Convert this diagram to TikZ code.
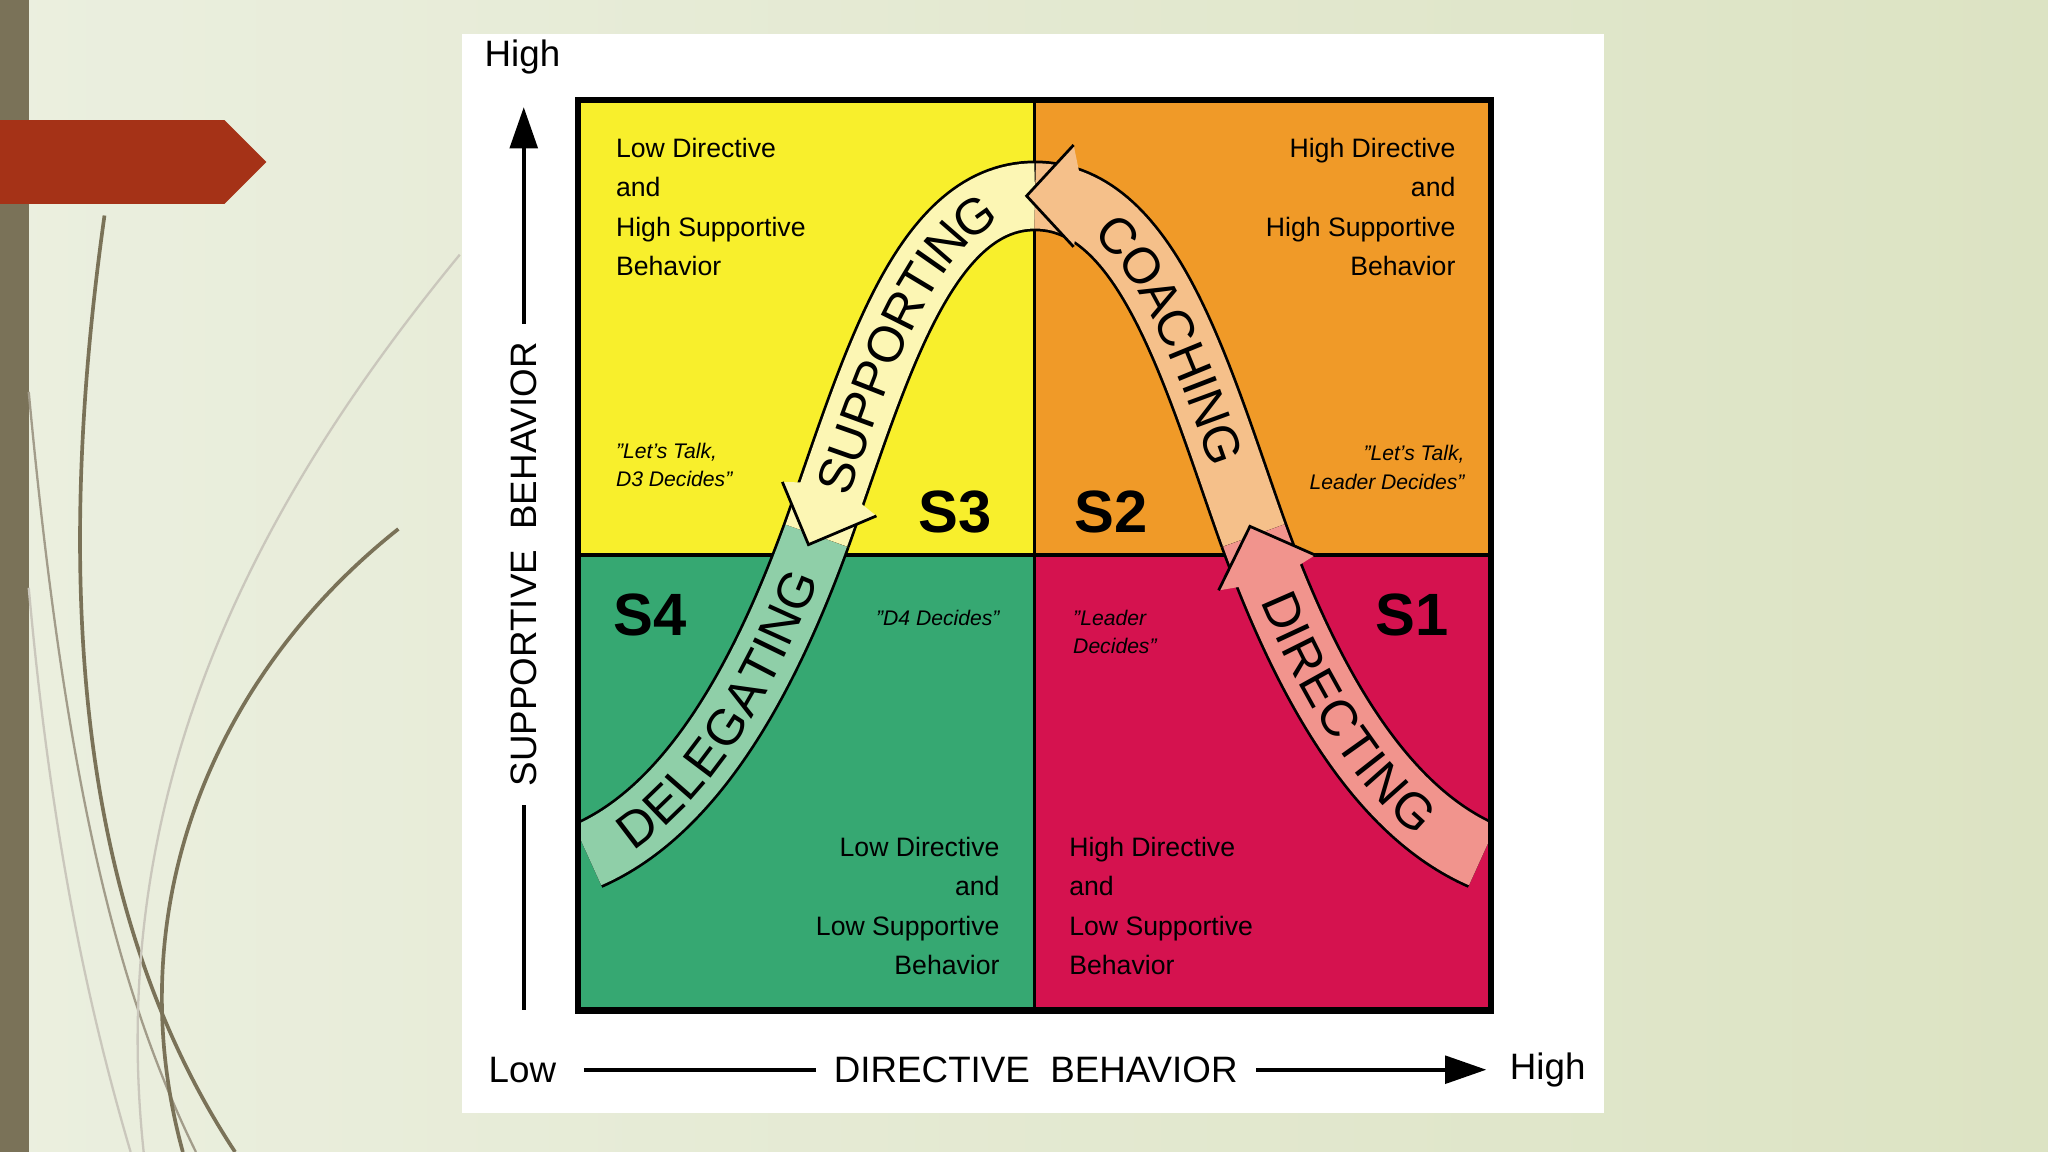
\documentclass[tikz,border=0pt]{standalone}
\usepackage{fontspec}
\setmainfont{Liberation Sans}
\usetikzlibrary{arrows.meta,positioning,decorations.text}
\definecolor{bgL}{HTML}{EBEFDF}
\definecolor{bgR}{HTML}{DCE3C3}
\definecolor{barC}{HTML}{7A7258}
\definecolor{tagC}{HTML}{A53217}
\definecolor{yelC}{HTML}{F8EF2C}
\definecolor{oraC}{HTML}{F09A28}
\definecolor{greC}{HTML}{36A872}
\definecolor{redC}{HTML}{D5124F}
\definecolor{dirC}{HTML}{F1948D}
\definecolor{coaC}{HTML}{F5C08A}
\definecolor{supC}{HTML}{FCF6B4}
\definecolor{delC}{HTML}{8FCFA8}
\newcommand{\bandfont}{\fontsize{11}{12}\selectfont}
\begin{document}
\begin{tikzpicture}[x=0.01cm,y=-0.01cm,
    quad/.style={draw=none,minimum width=3.48cm,minimum height=3.47cm,inner sep=0pt},
    desc/.style={font=\fontsize{5.8}{8.6}\selectfont,inner sep=0pt},
    quote/.style={font=\fontsize{4.6}{6.2}\selectfont\itshape,inner sep=0pt},
    slabel/.style={font=\fontsize{13}{13}\selectfont\bfseries,inner sep=0pt},
    axis/.style={font=\fontsize{8}{8}\selectfont,inner sep=2pt},
    bandout/.style={line width=15.4pt,black},
    bandin/.style={line width=14.2pt},
    head/.style={draw=black,line width=0.6pt,line join=miter},
    bandtext/.style={decorate,decoration={text along path,text align=center,raise=-3.9pt}}
  ]
    % background slide
    \useasboundingbox (0,0) rectangle (1568,882);
    \shade[left color=bgL,right color=bgR] (0,0) rectangle (1568,882);
    \fill[barC] (0,0) rectangle (22,882);
    \fill[tagC] (0,92) -- (172,92) -- (204,124) -- (172,156) -- (0,156) -- cycle;
    % decorative strokes
    \draw[barC,line width=0.8pt] (80,165) .. controls (40,450) and (60,700) .. (180,882);
    \draw[barC!70,line width=0.5pt] (22,300) .. controls (50,600) and (90,760) .. (150,882);
    \draw[barC,line width=0.8pt] (305,405) .. controls (160,520) and (90,700) .. (140,882);
    \draw[barC!40,line width=0.5pt] (352,195) .. controls (200,380) and (80,600) .. (110,882);
    \draw[barC!40,line width=0.5pt] (22,450) .. controls (40,650) and (70,780) .. (100,882);
    % white panel
    \fill[white] (354,26) rectangle (1228,852);
    % quadrants
    \node[quad,fill=yelC,anchor=south east] (q3) at (792,425) {};
    \node[quad,fill=oraC,anchor=south west] (q2) at (792,425) {};
    \node[quad,fill=greC,anchor=north east] (q4) at (792,425) {};
    \node[quad,fill=redC,anchor=north west] (q1) at (792,425) {};
    \draw[line width=0.8pt] (q3.north east) -- (q1.south west);
    \draw[line width=0.8pt] (q4.north west) -- (q2.south east);
    % band (S1 -> S2 -> S3 -> S4)
    \coordinate (bL) at (450,655);
    \coordinate (jL) at (625,410);
    \coordinate (pk) at (792.5,150);
    \coordinate (jR) at (960,410);
    \coordinate (bR) at (1135,655);
    \begin{scope}
      \clip (q3.north west) rectangle (q1.south east);
      \draw[bandout] (bL) .. controls (530,620) and (585,520) .. (jL);
      \draw[bandin,delC] (bL) .. controls (530,620) and (585,520) .. (jL);
    \end{scope}
    \draw[bandout] (jL) .. controls (668,290) and (705,150) .. (pk);
    \draw[bandin,supC] (jL) .. controls (668,290) and (705,150) .. (pk);
    \fill[supC] (671,395) -- (619,417) -- (599,369) -- (640,370) -- cycle;
    \draw[head] (671,395) -- (619,417) -- (599,369);
    \draw[bandout] (pk) .. controls (880,150) and (917,290) .. (jR);
    \draw[bandin,coaC] (pk) .. controls (880,150) and (917,290) .. (jR);
    \fill[coaC] (822,111) -- (786,150) -- (822,189) -- (830,150) -- cycle;
    \draw[head] (822,111) -- (786,150) -- (822,189);
    \begin{scope}
      \clip (q3.north west) rectangle (q1.south east);
      \draw[bandout] (jR) .. controls (1000,520) and (1055,620) .. (bR);
      \draw[bandin,dirC] (jR) .. controls (1000,520) and (1055,620) .. (bR);
    \end{scope}
    \fill[dirC] (1007,425) -- (957,403) -- (933,452) -- (975,445) -- cycle;
    \draw[head] (1007,425) -- (957,403) -- (933,452);
    \draw[line width=1.4pt] (q3.north west) rectangle (q1.south east);
    % band labels
    \path[bandtext,decoration={text={|\bandfont|DELEGATING}}] (bL) .. controls (530,620) and (585,520) .. (jL);
    \path[bandtext,decoration={text={|\bandfont|SUPPORTING}}] (jL) .. controls (668,290) and (705,150) .. (pk);
    \path[bandtext,decoration={text={|\bandfont|COACHING}}] (pk) .. controls (880,150) and (917,290) .. (jR);
    \path[bandtext,decoration={text={|\bandfont|DIRECTING}}] (jR) .. controls (1000,520) and (1055,620) .. (bR);
    % quadrant texts
    \node[desc,align=left,anchor=north west] (t3) at (471,105) {Low Directive\\and\\High Supportive\\Behavior};
    \node[desc,align=right,anchor=north east] (t2) at (1115,105) {High Directive\\and\\High Supportive\\Behavior};
    \node[desc,align=right,anchor=north east] (t4) at (766,640) {Low Directive\\and\\Low Supportive\\Behavior};
    \node[desc,align=left,anchor=north west] (t1) at (818,640) {High Directive\\and\\Low Supportive\\Behavior};
    \node[quote,align=left,anchor=west] (d3) at (471,356) {"Let's Talk,\\D3 Decides"};
    \node[quote,align=right,anchor=east] (d2) at (1122,358) {"Let's Talk,\\Leader Decides"};
    \node[quote] (d4) at (718,473) {"D4 Decides"};
    \node[quote,align=left,anchor=west] (d1) at (821,484) {"Leader\\Decides"};
    \node[slabel] (s3) at (731,392) {S3};
    \node[slabel] (s2) at (851,392) {S2};
    \node[slabel] (s4) at (498,471) {S4};
    \node[slabel] (s1) at (1081,471) {S1};
    % axes
    \node[axis] (yhi) at (400,44) {High};
    \coordinate (ytop) at (401,82);
    \coordinate (ybot) at (401,773);
    \draw[line width=0.9pt,-{Triangle[width=6pt,length=9pt]}] (ybot) -- (ytop);
    \node[axis,fill=white,rotate=90,inner sep=4pt] (ylab) at (401,432) {SUPPORTIVE\ \ BEHAVIOR};
    \node[axis] (xlo) at (400,819) {Low};
    \node[axis] (xhi) at (1185,819) {High};
    \coordinate (xl) at (447,819);
    \coordinate (xr) at (1138,819);
    \draw[line width=0.9pt,-{Triangle[width=6pt,length=9pt]}] (xl) -- (xr);
    \node[axis,fill=white,inner sep=4pt] (xlab) at (793,819) {DIRECTIVE\ \ BEHAVIOR};
\end{tikzpicture}
\end{document}
